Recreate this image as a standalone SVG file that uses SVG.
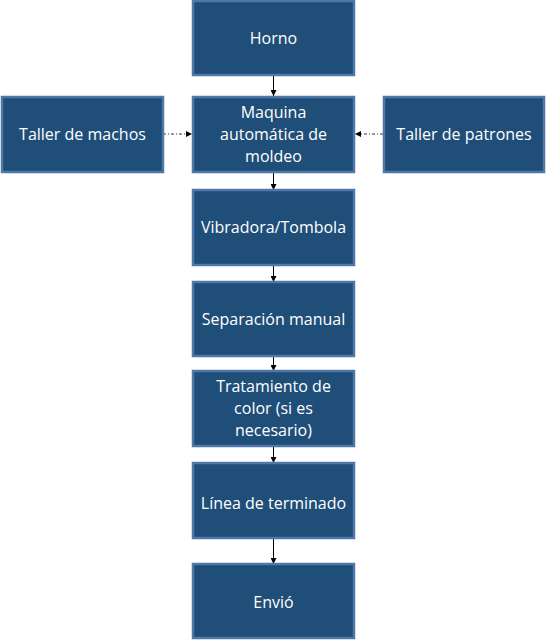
<svg xmlns="http://www.w3.org/2000/svg" width="546" height="640" viewBox="0 0 546 640">
<defs>
<style>
.box{fill:#1f4e79;stroke:#4f78a8;stroke-width:2.5}
.t{font-family:"Open Sans","Liberation Sans",sans-serif;font-size:16px;fill:#ffffff;text-anchor:middle}
.c{stroke:#000;stroke-width:1;fill:none}
.d{stroke:#000;stroke-width:0.8;fill:none;stroke-dasharray:3 2 1 2}
</style>
<marker id="ah" viewBox="0 0 10 10" refX="10" refY="5" markerWidth="6" markerHeight="6" orient="auto" markerUnits="userSpaceOnUse">
<path d="M0,0 L10,5 L0,10 z" fill="#000"/>
</marker>
</defs>
<rect width="546" height="640" fill="#fff"/>
<g id="connectors">
<line class="c" x1="273.5" y1="76" x2="273.5" y2="96" marker-end="url(#ah)"/>
<line class="c" x1="273.5" y1="172" x2="273.5" y2="190" marker-end="url(#ah)"/>
<line class="c" x1="273.5" y1="265" x2="273.5" y2="282" marker-end="url(#ah)"/>
<line class="c" x1="273.5" y1="356" x2="273.5" y2="371" marker-end="url(#ah)"/>
<line class="c" x1="273.5" y1="446" x2="273.5" y2="463" marker-end="url(#ah)"/>
<line class="c" x1="273.5" y1="538" x2="273.5" y2="564" marker-end="url(#ah)"/>
<line class="d" x1="163" y1="134" x2="192" y2="134" marker-end="url(#ah)"/>
<line class="d" x1="383" y1="134" x2="355" y2="134" marker-end="url(#ah)"/>
</g>
<g id="horno"><rect class="box" x="193" y="1" width="161" height="74"/><text class="t" x="273.5" y="44">Horno</text></g>
<g id="maquina"><rect class="box" x="193" y="97" width="161" height="75"/><text class="t" x="273.5" y="118">Maquina</text><text class="t" x="273.5" y="140">automática de</text><text class="t" x="273.5" y="162">moldeo</text></g>
<g id="machos"><rect class="box" x="2" y="97" width="161" height="75"/><text class="t" x="82.5" y="140">Taller de machos</text></g>
<g id="patrones"><rect class="box" x="384" y="97" width="160" height="75"/><text class="t" x="464" y="140">Taller de patrones</text></g>
<g id="vibradora"><rect class="box" x="193" y="190" width="161" height="75"/><text class="t" x="273.5" y="233">Vibradora/Tombola</text></g>
<g id="separacion"><rect class="box" x="193" y="282" width="161" height="74"/><text class="t" x="273.5" y="325">Separación manual</text></g>
<g id="tratamiento"><rect class="box" x="193" y="371" width="161" height="75"/><text class="t" x="273.5" y="392">Tratamiento de</text><text class="t" x="273.5" y="414">color (si es</text><text class="t" x="273.5" y="436">necesario)</text></g>
<g id="linea"><rect class="box" x="193" y="463" width="161" height="75"/><text class="t" x="273.5" y="509">Línea de terminado</text></g>
<g id="envio"><rect class="box" x="193" y="564" width="161" height="74"/><text class="t" x="273.5" y="608">Envió</text></g>
</svg>
